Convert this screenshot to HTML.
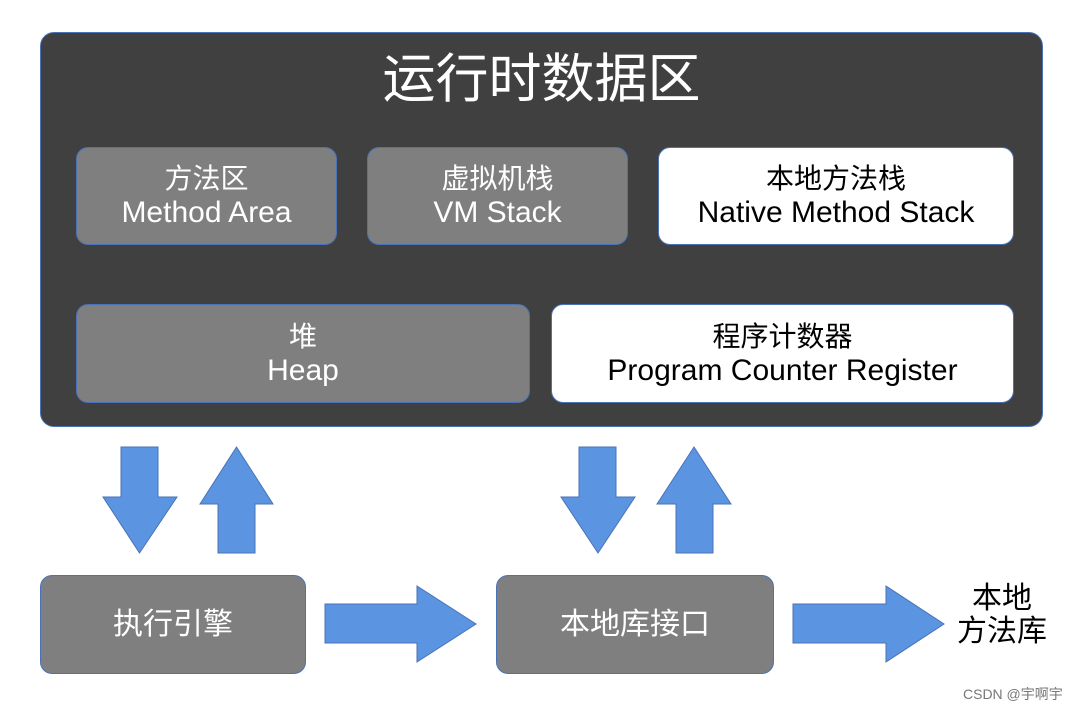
<!DOCTYPE html>
<html><head><meta charset="utf-8"><style>
body{margin:0;width:1079px;height:710px;background:#fff;position:relative;overflow:hidden;font-family:"Liberation Sans","Noto Sans CJK SC",sans-serif}
.b{position:absolute;box-sizing:border-box;border:1.5px solid #4a72b8;border-radius:12px;display:flex;flex-direction:column;align-items:center;justify-content:center;font-size:30px;line-height:34px;text-align:center}
.b .c{font-size:28px}
.g{background:#7f7f7f;color:#fff}
.w{background:#fff;color:#000}
</style></head><body>
<div class="b" style="left:40px;top:32px;width:1003px;height:395px;background:#404040;justify-content:flex-start;border-radius:14px"></div>
<div style="position:absolute;left:0;width:1083px;top:47px;text-align:center;color:#fff;font-size:53px;line-height:66px">运行时数据区</div>
<div class="b g" style="left:76px;top:147px;width:261px;height:98px"><span class="c">方法区</span>Method Area</div>
<div class="b g" style="left:367px;top:147px;width:261px;height:98px"><span class="c">虚拟机栈</span>VM Stack</div>
<div class="b w" style="left:658px;top:147px;width:356px;height:98px"><span class="c">本地方法栈</span>Native Method Stack</div>
<div class="b g" style="left:76px;top:304px;width:454px;height:99px"><span class="c">堆</span>Heap</div>
<div class="b w" style="left:551px;top:304px;width:463px;height:99px"><span class="c">程序计数器</span>Program Counter Register</div>
<div class="b g" style="left:40px;top:575px;width:266px;height:99px;font-size:30px">执行引擎</div>
<div class="b g" style="left:496px;top:575px;width:278px;height:99px;font-size:30px">本地库接口</div>
<div style="position:absolute;left:950px;width:104px;top:582px;text-align:center;font-size:30px;line-height:33px;color:#000">本地<br>方法库</div>
<svg style="position:absolute;left:0;top:0" width="1079" height="710">
<g fill="#5b95e1" stroke="#4a72b8" stroke-width="1">
<polygon points="121,447 158,447 158,497 177,497 139.5,553 103,497 121,497"/>
<polygon points="236.5,447 273,504 255,504 255,553 218,553 218,504 200,504"/>
<polygon points="579,447 616,447 616,497 635,497 598,553 561,497 579,497"/>
<polygon points="694,447 731,504 713,504 713,553 676,553 676,504 657,504"/>
<polygon points="325,604 417,604 417,586 476,624 417,662 417,643 325,643"/>
<polygon points="793,604 886,604 886,586 944,624 886,662 886,643 793,643"/>
</g></svg>
<div style="position:absolute;left:963px;top:684px;font-size:14px;color:#777">CSDN @宇啊宇</div>
</body></html>
